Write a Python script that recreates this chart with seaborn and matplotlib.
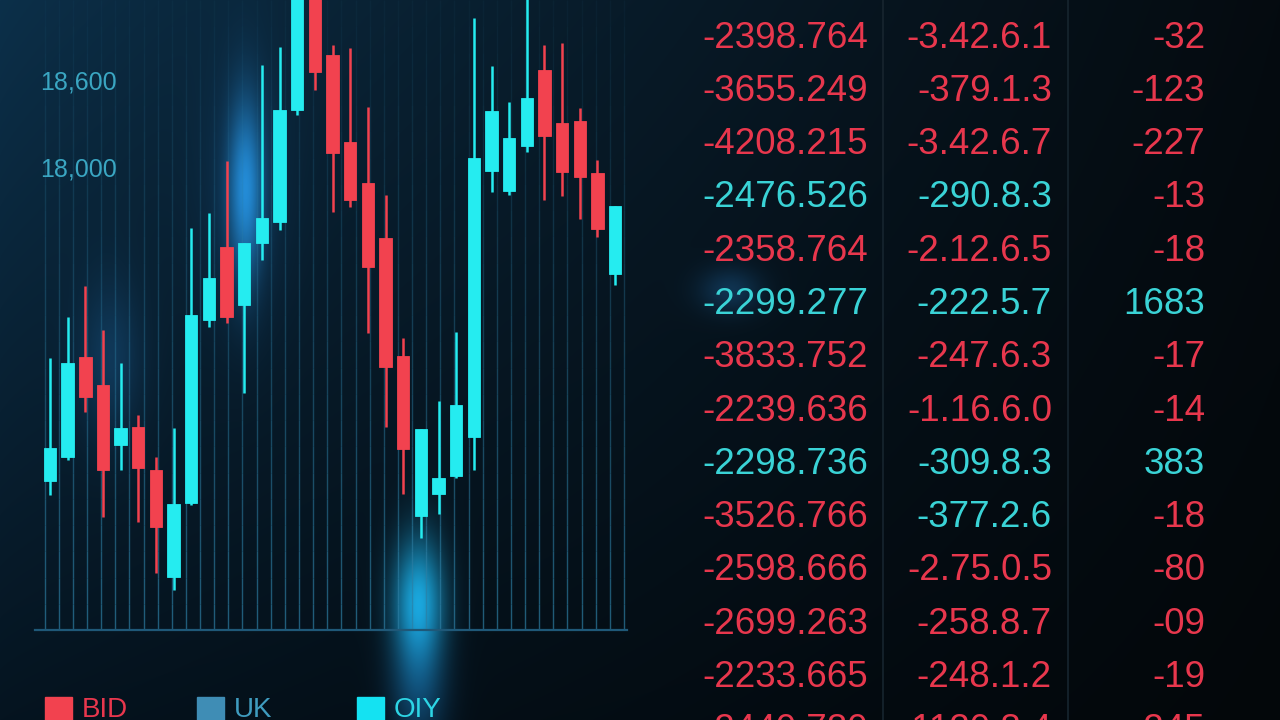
import numpy as np
import matplotlib
matplotlib.use("Agg")
import matplotlib.pyplot as plt
import matplotlib.transforms as mtransforms
from matplotlib.patches import Rectangle
from matplotlib.lines import Line2D
import seaborn as sns

# ---------------- data ----------------
candle_open  = [15855, 16021, 16710, 16517, 16103, 16228, 15931, 15193, 15704, 16966,
                17469, 17069, 17497, 17641, 18414, 19310, 18793, 18193, 17910, 17531,
                16717, 15614, 15766, 15890, 16159, 17993, 17855, 18166, 18690, 18324,
                18338, 17979, 17283]
candle_close = [16083, 16669, 16434, 15931, 16221, 15945, 15538, 15697, 16999, 17255,
                16986, 17497, 17669, 18414, 19310, 18676, 18117, 17793, 17331, 16641,
                16076, 16214, 15876, 16379, 18083, 18407, 18221, 18497, 18234, 17986,
                17952, 17593, 17752]
candle_high  = [16703, 16986, 17200, 16897, 16669, 16310, 16021, 16221, 17600, 17703,
                18062, 17497, 18724, 18848, 19310, 19310, 18862, 18841, 18434, 17828,
                16841, 16214, 16407, 16883, 19048, 18717, 18469, 19241, 18862, 18876,
                18428, 18069, 17752]
candle_low   = [15759, 16000, 16331, 15607, 15931, 15572, 15221, 15104, 15690, 16917,
                16945, 16462, 17379, 17586, 18379, 18552, 17710, 17745, 16876, 16228,
                15766, 15462, 15628, 15876, 15931, 17848, 17828, 18124, 17793, 17821,
                17662, 17538, 17207]

y_tick_values = [18600, 18000]
y_tick_labels = ["18,600", "18,000"]

col1 = ["-2398.764", "-3655.249", "-4208.215", "-2476.526", "-2358.764", "-2299.277",
        "-3833.752", "-2239.636", "-2298.736", "-3526.766", "-2598.666", "-2699.263",
        "-2233.665", "-2440.780"]
col2 = ["-3.42.6.1", "-379.1.3", "-3.42.6.7", "-290.8.3", "-2.12.6.5", "-222.5.7",
        "-247.6.3", "-1.16.6.0", "-309.8.3", "-377.2.6", "-2.75.0.5", "-258.8.7",
        "-248.1.2", "-1120.8.4"]
col3 = ["-32", "-123", "-227", "-13", "-18", "1683", "-17", "-14", "383", "-18",
        "-80", "-09", "-19", "-245"]
col1_up = [0, 0, 0, 1, 0, 1, 0, 0, 1, 0, 0, 0, 0, 0]
col2_up = [0, 0, 0, 1, 0, 1, 0, 0, 1, 1, 0, 0, 0, 0]
col3_up = [0, 0, 0, 0, 0, 1, 0, 0, 1, 0, 0, 0, 0, 0]

legend_labels = ["BID", "UK", "OIY"]

# ---------------- style ----------------
sns.set_theme(style="dark", rc={"axes.grid": False})
plt.rcParams["font.family"] = ["Liberation Sans", "DejaVu Sans"]

RED = "#f2424f"
CYAN = "#25ecf0"
RED_TXT = "#e8374d"
CYAN_TXT = "#3ad3d6"

W, H = 1280, 720
fig = plt.figure(figsize=(12.8, 7.2), dpi=100)

# ---------------- background ----------------
yy, xx = np.mgrid[0:H, 0:W].astype(float)
wx = np.clip(xx / 1280.0, 0, 1) ** 0.8
wy = yy / H
c_lt = np.array([12, 48, 74]) / 255
c_lb = np.array([5, 20, 32]) / 255
c_rt = np.array([5, 11, 16]) / 255
c_rb = np.array([3, 7, 10]) / 255
top = c_lt[None, None, :] * (1 - wx[..., None]) + c_rt[None, None, :] * wx[..., None]
bot = c_lb[None, None, :] * (1 - wx[..., None]) + c_rb[None, None, :] * wx[..., None]
bg = top * (1 - wy[..., None]) + bot * wy[..., None]


def glow(x0, y0, sx, sy, col, k):
    g = np.exp(-0.5 * ((xx - x0) / sx) ** 2 - 0.5 * ((yy - y0) / sy) ** 2)
    return g[..., None] * np.array(col)[None, None, :] * k


bg = bg + glow(245, 190, 12, 62, [0.15, 0.6, 0.9], 0.6)
bg = bg + glow(245, 190, 30, 90, [0.1, 0.4, 0.7], 0.15)
bg = bg + glow(110, 360, 22, 55, [0.15, 0.5, 0.8], 0.2)
bg = bg + glow(418, 600, 18, 45, [0.1, 0.7, 0.9], 0.8)
bg = bg + glow(418, 690, 20, 45, [0.1, 0.5, 0.8], 0.35)
bg = bg + glow(730, 290, 22, 16, [0.15, 0.5, 0.8], 0.25)
bg = np.clip(bg, 0, 1)

bgax = fig.add_axes([0, 0, 1, 1], zorder=0)
bgax.imshow(bg, aspect="auto", extent=[0, W, H, 0], interpolation="bilinear")
bgax.set_axis_off()

# ---------------- candlestick chart ----------------
ax = fig.add_axes([35 / W, (H - 630) / H, 592 / W, 630 / H], zorder=1)
ax.set_facecolor("none")
idx = np.arange(len(candle_open))
x_left = (35 - 50) / 17.66
x_right = (627 - 50) / 17.66
ax.set_xlim(x_left, x_right)
ylo, yhi = 14827.6, 19172.4
ax.set_ylim(ylo, yhi)

# fading vertical guide lines
gx = np.arange(-0.3, 32.7, 0.8)
nseg = 24
edges = np.linspace(ylo, yhi, nseg + 1)
for k in range(nseg):
    a = 0.65 * (1 - k / nseg) ** 1.1 + 0.04
    ax.vlines(gx, edges[k], edges[k + 1], color="#2d7ea3", lw=1.0, alpha=a, zorder=1)

o = np.array(candle_open)
c = np.array(candle_close)
up = c >= o
colors = [CYAN if u else RED for u in up]
ax.vlines(idx, candle_low, candle_high, colors=colors, lw=1.8, zorder=3)
ax.bar(idx, np.abs(c - o), bottom=np.minimum(o, c), width=0.7, color=colors,
       edgecolor=colors, linewidth=0.6, zorder=4)

for s in ["top", "right", "left"]:
    ax.spines[s].set_visible(False)
ax.spines["bottom"].set_color("#1f5878")
ax.spines["bottom"].set_linewidth(1.6)
ax.set_xticks([])
ax.set_yticks([])

trans = mtransforms.blended_transform_factory(ax.transAxes, ax.transData)
for v, lab in zip(y_tick_values, y_tick_labels):
    ax.text(5 / 592, v, lab, transform=trans, ha="left", va="center",
            fontsize=18, color="#3aa6c2", zorder=5)

# ---------------- table ----------------
row_y = [34.5 + 53.3 * i for i in range(len(col1))]
for i, yc in enumerate(row_y):
    yb = 1 - (yc + 13) / H
    fig.text(868 / W, yb, col1[i], ha="right", va="baseline", fontsize=26.5,
             color=CYAN_TXT if col1_up[i] else RED_TXT, zorder=3)
    fig.text(1052 / W, yb, col2[i], ha="right", va="baseline", fontsize=26.5,
             color=CYAN_TXT if col2_up[i] else RED_TXT, zorder=3)
    fig.text(1205 / W, yb, col3[i], ha="right", va="baseline", fontsize=26.5,
             color=CYAN_TXT if col3_up[i] else RED_TXT, zorder=3)

for xs in [883, 1068]:
    fig.add_artist(Line2D([xs / W, xs / W], [0, 1], color="#17252f", lw=1.2, zorder=2))

# ---------------- legend ----------------
leg_x = [45, 197, 357]
leg_col = [RED, "#3f8db5", "#14e2f2"]
leg_txt_col = [RED_TXT, "#3f9cbf", "#2dd5e5"]
for lx, lab, fc, tc in zip(leg_x, legend_labels, leg_col, leg_txt_col):
    fig.add_artist(Rectangle((lx / W, 1 - 724 / H), 27 / W, 27 / H,
                             transform=fig.transFigure, color=fc, zorder=3))
    fig.text((lx + 37) / W, 1 - 697 / H, lab, ha="left", va="top", fontsize=20,
             color=tc, zorder=3)

fig.savefig("out.png", dpi=100)
